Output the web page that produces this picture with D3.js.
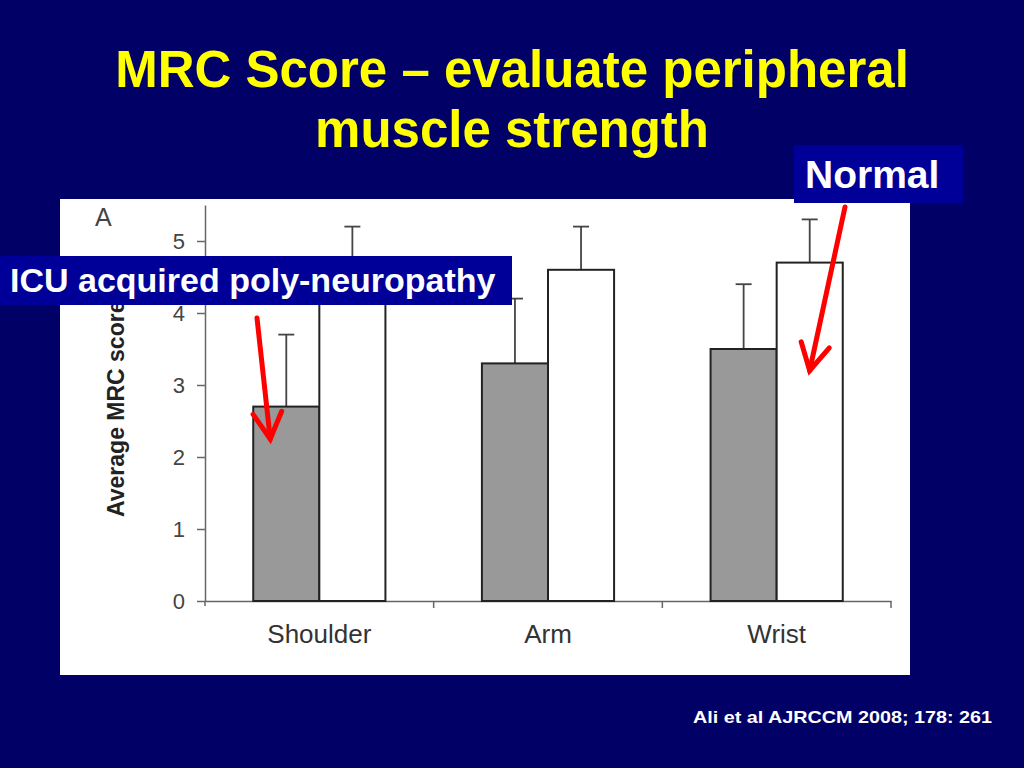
<!DOCTYPE html>
<html>
<head>
<meta charset="utf-8">
<script src="https://cdn.jsdelivr.net/npm/d3@7"></script>
<style>
  html, body { margin: 0; padding: 0; background: #000066; }
  svg { display: block; font-family: "Liberation Sans", Arial, sans-serif; }
</style>
</head>
<body>
<svg id="slide" width="1024" height="768"></svg>
<script>
// values
const categories = ['Shoulder', 'Arm', 'Wrist'];
const seriesKeys = ['icu', 'normal'];
const icuMeans = [2.7, 3.3, 3.5];
const icuErrTop = [3.7, 4.2, 4.4];
const normalMeans = [4.5, 4.6, 4.7];
const normalErrTop = [5.2, 5.2, 5.3];
const yTicks = [0, 1, 2, 3, 4, 5];

const rows = categories.map((c, i) => ({
    cat: c,
    bars: [
        { key: 'icu', cat: c, mean: icuMeans[i], top: icuErrTop[i] },
        { key: 'normal', cat: c, mean: normalMeans[i], top: normalErrTop[i] }
    ]
}));

const svg = d3.select('#slide');

svg.append('rect')
    .attr('width', 1024).attr('height', 768)
    .attr('fill', '#000066');

// title
const title = svg.append('text')
    .attr('text-anchor', 'middle')
    .attr('font-weight', 'bold')
    .attr('font-size', '51px')
    .attr('fill', '#ffff00');
title.append('tspan').attr('x', 512).attr('y', 87).text('MRC Score \u2013 evaluate peripheral');
title.append('tspan').attr('x', 512).attr('y', 147).text('muscle strength');

// white chart panel
svg.append('rect')
    .attr('x', 60).attr('y', 199)
    .attr('width', 850).attr('height', 476)
    .attr('fill', '#ffffff');

const y = d3.scaleLinear().domain([0, 5.5]).range([601, 205]);
const x0 = d3.scaleBand().domain(categories).range([205, 891]).padding(0);
const x1 = d3.scaleBand().domain(seriesKeys).range([0, x0.bandwidth()])
    .paddingInner(0).paddingOuter(0.73);
const fill = d3.scaleOrdinal().domain(seriesKeys).range(['#999999', '#ffffff']);

const g = svg.append('g');

// y axis
const yAxis = g.append('g')
    .attr('transform', 'translate(205,0)')
    .call(d3.axisLeft(y).tickValues(yTicks).tickFormat(d3.format('d'))
        .tickSize(8).tickSizeOuter(0).tickPadding(12));
yAxis.select('.domain').attr('stroke', '#666').attr('stroke-width', 1.5);
yAxis.selectAll('.tick line').attr('stroke', '#666').attr('stroke-width', 1.5);
yAxis.selectAll('.tick text')
    .attr('font-size', '22px')
    .attr('fill', '#444')
    .attr('font-family', '"Liberation Sans", Arial, sans-serif');
yAxis.append('line')
    .attr('x1', 0).attr('x2', 0)
    .attr('y1', y(0)).attr('y2', y(0) + 5)
    .attr('stroke', '#666').attr('stroke-width', 1.5);

// x axis with ticks on band edges
const xAxis = g.append('g')
    .attr('transform', 'translate(0,' + y(0) + ')')
    .call(d3.axisBottom(x0).tickSize(0).tickPadding(24).tickSizeOuter(0));
xAxis.select('.domain').attr('stroke', '#666').attr('stroke-width', 1.5);
xAxis.selectAll('.tick text')
    .attr('font-size', '26px')
    .attr('fill', '#333')
    .attr('font-family', '"Liberation Sans", Arial, sans-serif');
xAxis.selectAll('.edge')
    .data(categories)
    .enter()
    .append('line')
    .attr('x1', d => x0(d) + x0.bandwidth())
    .attr('x2', d => x0(d) + x0.bandwidth())
    .attr('y1', 0).attr('y2', 7)
    .attr('stroke', '#666').attr('stroke-width', 1.5);

// bars with upper error whiskers
const groupsG = g.selectAll('.grp')
    .data(rows)
    .enter()
    .append('g')
    .attr('transform', d => 'translate(' + x0(d.cat) + ',0)');

const bar = groupsG.selectAll('.bar')
    .data(d => d.bars)
    .enter()
    .append('g');

bar.append('line')
    .attr('x1', d => x1(d.key) + x1.bandwidth() / 2)
    .attr('x2', d => x1(d.key) + x1.bandwidth() / 2)
    .attr('y1', d => y(d.mean))
    .attr('y2', d => y(d.top))
    .attr('stroke', '#444').attr('stroke-width', 1.8);
bar.append('line')
    .attr('x1', d => x1(d.key) + x1.bandwidth() / 2 - 8)
    .attr('x2', d => x1(d.key) + x1.bandwidth() / 2 + 8)
    .attr('y1', d => y(d.top))
    .attr('y2', d => y(d.top))
    .attr('stroke', '#444').attr('stroke-width', 1.8);
bar.append('rect')
    .attr('x', d => x1(d.key))
    .attr('y', d => y(d.mean))
    .attr('width', x1.bandwidth())
    .attr('height', d => y(0) - y(d.mean))
    .attr('fill', d => fill(d.key))
    .attr('stroke', '#222')
    .attr('stroke-width', 2);

// panel letter and axis title
svg.append('text')
    .attr('x', 95).attr('y', 226)
    .attr('font-size', '25px')
    .attr('fill', '#444')
    .text('A');

svg.append('text')
    .attr('transform', 'translate(124,517) rotate(-90)')
    .attr('font-size', '23px')
    .attr('font-weight', 'bold')
    .attr('fill', '#222')
    .text('Average MRC score');

// annotation boxes
svg.append('rect')
    .attr('x', 0).attr('y', 256)
    .attr('width', 512).attr('height', 49)
    .attr('fill', '#000099');
svg.append('text')
    .attr('x', 10).attr('y', 292)
    .attr('font-size', '34px')
    .attr('font-weight', 'bold')
    .attr('fill', '#ffffff')
    .text('ICU acquired poly-neuropathy');

svg.append('rect')
    .attr('x', 794).attr('y', 145)
    .attr('width', 169).attr('height', 58)
    .attr('fill', '#000099');
svg.append('text')
    .attr('x', 805).attr('y', 188)
    .attr('font-size', '39px')
    .attr('font-weight', 'bold')
    .attr('fill', '#ffffff')
    .text('Normal');

// red arrows pointing at the bars
function arrow(x1p, y1p, x2p, y2p) {
    const ang = Math.atan2(y2p - y1p, x2p - x1p);
    const len = 30, spread = 0.5;
    const a = svg.append('g')
        .attr('stroke', '#ff0000')
        .attr('stroke-width', 5)
        .attr('stroke-linecap', 'round')
        .attr('fill', 'none');
    a.append('line')
        .attr('x1', x1p).attr('y1', y1p)
        .attr('x2', x2p).attr('y2', y2p);
    a.append('path')
        .attr('d', 'M' + (x2p - len * Math.cos(ang - spread)) + ',' + (y2p - len * Math.sin(ang - spread)) +
            'L' + x2p + ',' + y2p +
            'L' + (x2p - len * Math.cos(ang + spread)) + ',' + (y2p - len * Math.sin(ang + spread)))
        .attr('stroke-linejoin', 'miter');
}
arrow(257, 318, x0('Shoulder') + x1('icu') + 17, y(2.25));
arrow(845, 207, x0('Wrist') + x1('normal') + 33, y(3.2));

// citation
svg.append('text')
    .attr('x', 992).attr('y', 723)
    .attr('text-anchor', 'end')
    .attr('font-size', '17px')
    .attr('font-weight', 'bold')
    .attr('fill', '#ffffff')
    .attr('textLength', 299)
    .attr('lengthAdjust', 'spacingAndGlyphs')
    .text('Ali et al AJRCCM 2008; 178: 261');
</script>
</body>
</html>
